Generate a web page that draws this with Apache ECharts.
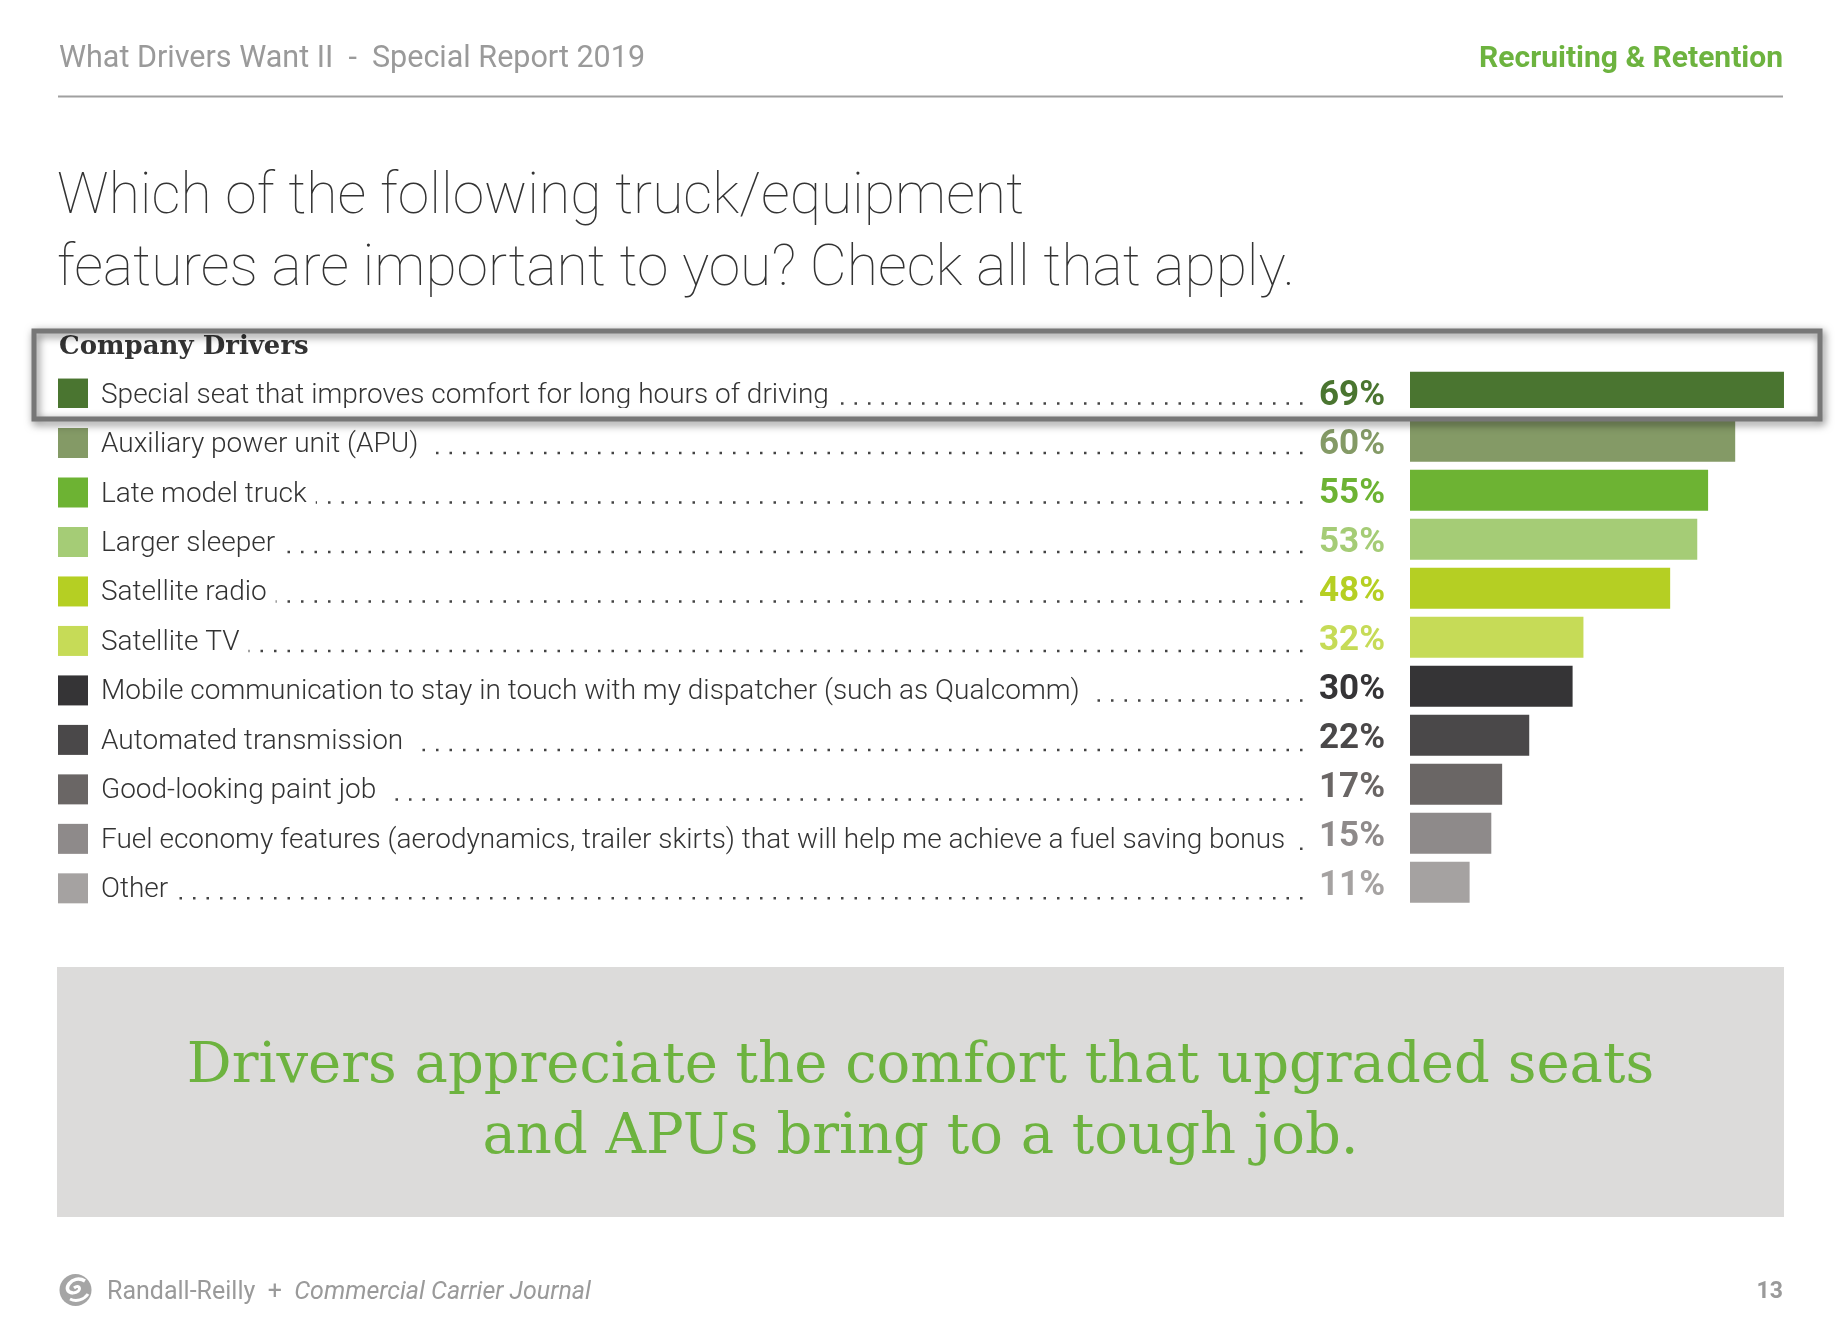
<!DOCTYPE html>
<html>
<head>
<meta charset="utf-8">
<title>What Drivers Want II - truck/equipment features</title>
<script src="https://cdn.jsdelivr.net/npm/echarts@6/dist/echarts.min.js"></script>
<style>
  html, body { margin: 0; padding: 0; background: #fff; }
  #chart { width: 1848px; height: 1322px; }
</style>
</head>
<body>
<div id="chart"></div>
<script>
// ---- data ----
const categories = [
    'Special seat that improves comfort for long hours of driving',
    'Auxiliary power unit (APU)',
    'Late model truck',
    'Larger sleeper',
    'Satellite radio',
    'Satellite TV',
    'Mobile communication to stay in touch with my dispatcher (such as Qualcomm)',
    'Automated transmission',
    'Good-looking paint job',
    'Fuel economy features (aerodynamics, trailer skirts) that will help me achieve a fuel saving bonus',
    'Other'
];
const values = [69, 60, 55, 53, 48, 32, 30, 22, 17, 15, 11];
const barColors = [
    '#4a7530', '#849a66', '#6db333', '#a5cc76', '#b5cf23', '#c6db57',
    '#353436', '#4a4849', '#6a6665', '#8e8a8a', '#a5a2a1'
];

const GREEN = '#6db33f';
const GREY = '#9a9a9a';

// ---- layout ----
const barLeft = 1410;
const pxPerPct = 5.42;   // bar length per percent point
const axisMax = 80;      // keeps the bar grid inside the page
const rowsTop = 367.8;

const chart = echarts.init(document.getElementById('chart'));

// rich styles for the legend squares, one per row
const rich = {
    t: {
        fontFamily: 'Roboto', fontWeight: 300, fontSize: 28, color: '#333',
        backgroundColor: '#fff', padding: [4, 9, 0, 13], lineHeight: 34,
        verticalAlign: 'middle'
    }
};
barColors.forEach((c, i) => {
    rich['s' + i] = { width: 30, height: 30, backgroundColor: c, verticalAlign: 'middle' };
});

const option = {
    backgroundColor: '#fff',
    animation: false,
    grid: [
        { left: barLeft, top: rowsTop, width: pxPerPct * axisMax, height: 49 * 11 },
        { left: 58, top: rowsTop + 1, width: 1318 - 58, height: 49.48 * 11 }
    ],
    xAxis: [
        { gridIndex: 0, type: 'value', min: 0, max: axisMax, show: false },
        { gridIndex: 1, type: 'value', min: 0, max: 1, show: false }
    ],
    yAxis: [
        {
            gridIndex: 0, type: 'category', data: categories, inverse: true,
            axisLine: { show: false }, axisTick: { show: false }, axisLabel: { show: false }
        },
        {
            gridIndex: 1, type: 'category', data: categories, inverse: true, z: 5,
            axisLine: { show: false }, axisTick: { show: false },
            axisLabel: {
                interval: 0, margin: 0, align: 'left',
                formatter: (v, i) => '{s' + i + '|}{t|' + v + '}',
                rich: rich
            }
        }
    ],
    series: [
        {
            type: 'bar',
            xAxisIndex: 0, yAxisIndex: 0,
            barWidth: 41,
            data: values.map((v, i) => ({
                value: v,
                itemStyle: { color: barColors[i] },
                label: { color: barColors[i] }
            })),
            label: {
                show: true, position: 'left', distance: 25, offset: [0, 4],
                formatter: '{c}%',
                fontFamily: 'Roboto', fontWeight: 700, fontSize: 35,
                backgroundColor: '#fff', padding: [2, 0, 0, 8]
            }
        },
        {
            // dot leaders between label and percentage
            type: 'custom',
            xAxisIndex: 1, yAxisIndex: 1,
            z: 1,
            data: categories.map((c, i) => [1, i]),
            encode: { x: 0, y: 1 },
            renderItem: function (params, api) {
                const idx = api.value(1);
                const a = api.coord([0, idx]);
                const b = api.coord([1, idx]);
                return {
                    type: 'line',
                    shape: { x1: a[0], y1: a[1] + 10, x2: b[0], y2: b[1] + 10 },
                    style: { stroke: '#444', lineWidth: 2.5, lineDash: [2.5, 11] }
                };
            }
        }
    ],
    graphic: [
        // header
        {
            type: 'text', x: 59, y: 59,
            style: {
                text: 'What Drivers Want II  -  Special Report 2019', fill: GREY,
                fontFamily: 'Roboto', fontSize: 30.5, verticalAlign: 'middle'
            }
        },
        {
            type: 'text', x: 1783, y: 59,
            style: {
                text: 'Recruiting & Retention', fill: GREEN,
                fontFamily: 'Roboto', fontWeight: 700, fontSize: 30,
                align: 'right', verticalAlign: 'middle'
            }
        },
        {
            type: 'line',
            shape: { x1: 58, y1: 96.5, x2: 1783, y2: 96.5 },
            style: { stroke: '#a0a0a0', lineWidth: 2 }
        },
        // question
        {
            type: 'text', x: 57, y: 199,
            style: {
                text: 'Which of the following truck/equipment', fill: '#333',
                fontFamily: 'Roboto', fontWeight: 100, fontSize: 57, verticalAlign: 'middle'
            }
        },
        {
            type: 'text', x: 57, y: 271,
            style: {
                text: 'features are important to you? Check all that apply.', fill: '#333',
                fontFamily: 'Roboto', fontWeight: 100, fontSize: 57, verticalAlign: 'middle'
            }
        },
        {
            type: 'text', x: 59, y: 347,
            style: {
                text: 'Company Drivers', fill: '#333',
                fontFamily: 'DejaVu Serif', fontWeight: 700, fontSize: 26, verticalAlign: 'middle'
            }
        },
        // highlight box around the first row
        {
            type: 'rect', z: 100,
            shape: { x: 36, y: 408, width: 1782, height: 9 },
            style: { fill: '#fff' }
        },
        {
            type: 'rect', z: 101,
            shape: { x: 34, y: 331, width: 1786, height: 88 },
            style: {
                fill: 'none', stroke: '#777', lineWidth: 5,
                shadowBlur: 8, shadowColor: 'rgba(0,0,0,0.55)', shadowOffsetX: 2, shadowOffsetY: 3
            }
        },
        // takeaway box
        {
            type: 'rect',
            shape: { x: 57, y: 967, width: 1727, height: 250 },
            style: { fill: '#dcdbda' }
        },
        {
            type: 'text', x: 920.5, y: 1103,
            style: {
                text: 'Drivers appreciate the comfort that upgraded seats\nand APUs bring to a tough job.',
                fill: GREEN, fontFamily: 'DejaVu Serif', fontSize: 56, lineHeight: 71,
                align: 'center', verticalAlign: 'middle'
            }
        },
        // footer logo
        {
            type: 'circle',
            shape: { cx: 75.5, cy: 1290, r: 16 },
            style: { fill: '#a5a5a5' }
        },
        {
            type: 'bezierCurve',
            shape: { x1: 85, y1: 1281, cpx1: 72, cpy1: 1273, cpx2: 60, cpy2: 1292, x2: 73, y2: 1293 },
            style: { stroke: '#fff', lineWidth: 3.5, fill: 'none' }
        },
        {
            type: 'bezierCurve',
            shape: { x1: 73, y1: 1293, cpx1: 83, cpy1: 1292, cpx2: 80, cpy2: 1283, x2: 74, y2: 1288 },
            style: { stroke: '#fff', lineWidth: 3, fill: 'none' }
        },
        {
            type: 'bezierCurve',
            shape: { x1: 70, y1: 1299, cpx1: 76, cpy1: 1302, cpx2: 84, cpy2: 1300, x2: 88, y2: 1294 },
            style: { stroke: '#fff', lineWidth: 3, fill: 'none' }
        },
        {
            type: 'text', x: 107, y: 1293,
            style: {
                text: '{a|Randall-Reilly  +  }{b|Commercial Carrier Journal}',
                verticalAlign: 'middle',
                rich: {
                    a: { fontFamily: 'Roboto', fontSize: 25, fill: GREY },
                    b: { fontFamily: 'Roboto', fontSize: 25, fontStyle: 'italic', fill: GREY }
                }
            }
        },
        {
            type: 'text', x: 1783, y: 1292,
            style: {
                text: '13', fill: GREY, fontFamily: 'Roboto', fontWeight: 700, fontSize: 23,
                align: 'right', verticalAlign: 'middle'
            }
        }
    ]
};

chart.setOption(option);
window.addEventListener('resize', () => chart.resize());
</script>
</body>
</html>
